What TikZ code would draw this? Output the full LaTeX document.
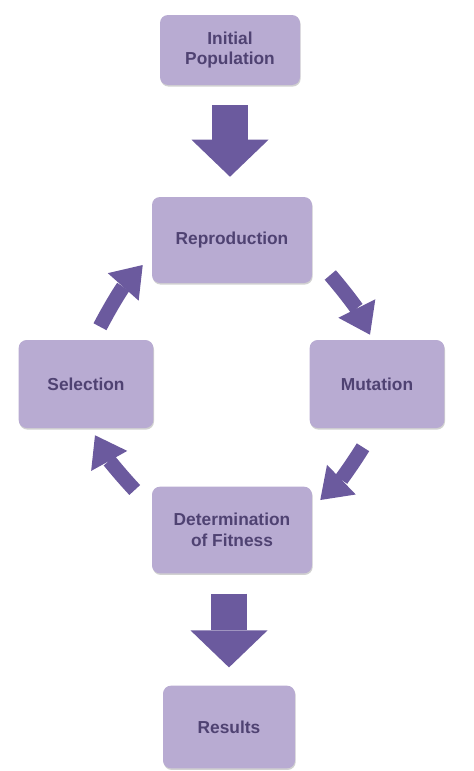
\documentclass[tikz,border=0pt]{standalone}
\usepackage{fontspec}
\setmainfont{Liberation Sans}
\usetikzlibrary{calc}
\usetikzlibrary{arrows.meta, shadows}

\definecolor{boxfill}{HTML}{B8ABD2}
\definecolor{arrowfill}{HTML}{6B5A9E}
\definecolor{boxtext}{HTML}{4F4272}

\tikzset{
  stagebox/.style={rectangle, rounded corners=6pt, fill=boxfill, text=boxtext,
    font=\bfseries\fontsize{13}{15.5}\selectfont, align=center,
    drop shadow={shadow xshift=0.5pt, shadow yshift=-1.2pt, opacity=0.3, fill=black!60}},
  bigarrow/.style={draw=arrowfill, line width=27pt,
    -{Triangle[length=27.75pt, width=57.75pt, line width=0pt]}},
  ringarrow/.style={draw=arrowfill, line width=11pt,
    -{Triangle[length=22pt, width=31pt, line width=0pt]}}
}

\begin{document}
\begin{tikzpicture}[x=0.75pt, y=0.75pt]

\useasboundingbox (0,0) rectangle (474,-771);

% --- Stages ---
\node[stagebox, minimum width=105pt, minimum height=52.5pt] (init) at (230,-50) {Initial\\Population};
\node[stagebox, minimum width=120pt, minimum height=64.5pt] (repro) at (232,-240) {Reproduction};
\node[stagebox, minimum width=101pt, minimum height=66pt] (sel) at (86,-384) {Selection};
\node[stagebox, minimum width=101pt, minimum height=66pt] (mut) at (377,-384) {Mutation};
\node[stagebox, minimum width=120pt, minimum height=65pt] (fit) at (232,-530) {Determination\\of Fitness};
\node[stagebox, minimum width=99pt, minimum height=62pt] (res) at (229,-727) {Results};

% --- Straight arrows in and out of the loop ---
\draw[bigarrow, shorten <=15pt, shorten >=15pt] (init.south) -- (init.south |- repro.north);
\draw[bigarrow, shorten <=15pt, shorten >=13.5pt] (res.north |- fit.south) -- (res.north);

% --- The loop ---
\draw[ringarrow] ($(sel.north)+(14,13)$) to[bend left=7] ($(repro.west)+(-9,-25)$);
\draw[ringarrow] ($(repro.east)+(18,-35)$) to[bend left=7] ($(mut.north)+(-7,5)$);
\draw[ringarrow] ($(mut.south)+(-14,-19)$) to[bend left=7] ($(fit.east)+(8,30)$);
\draw[ringarrow] ($(fit.west)+(-17,40)$) to[bend left=7] ($(sel.south)+(9,-7)$);

\end{tikzpicture}
\end{document}
